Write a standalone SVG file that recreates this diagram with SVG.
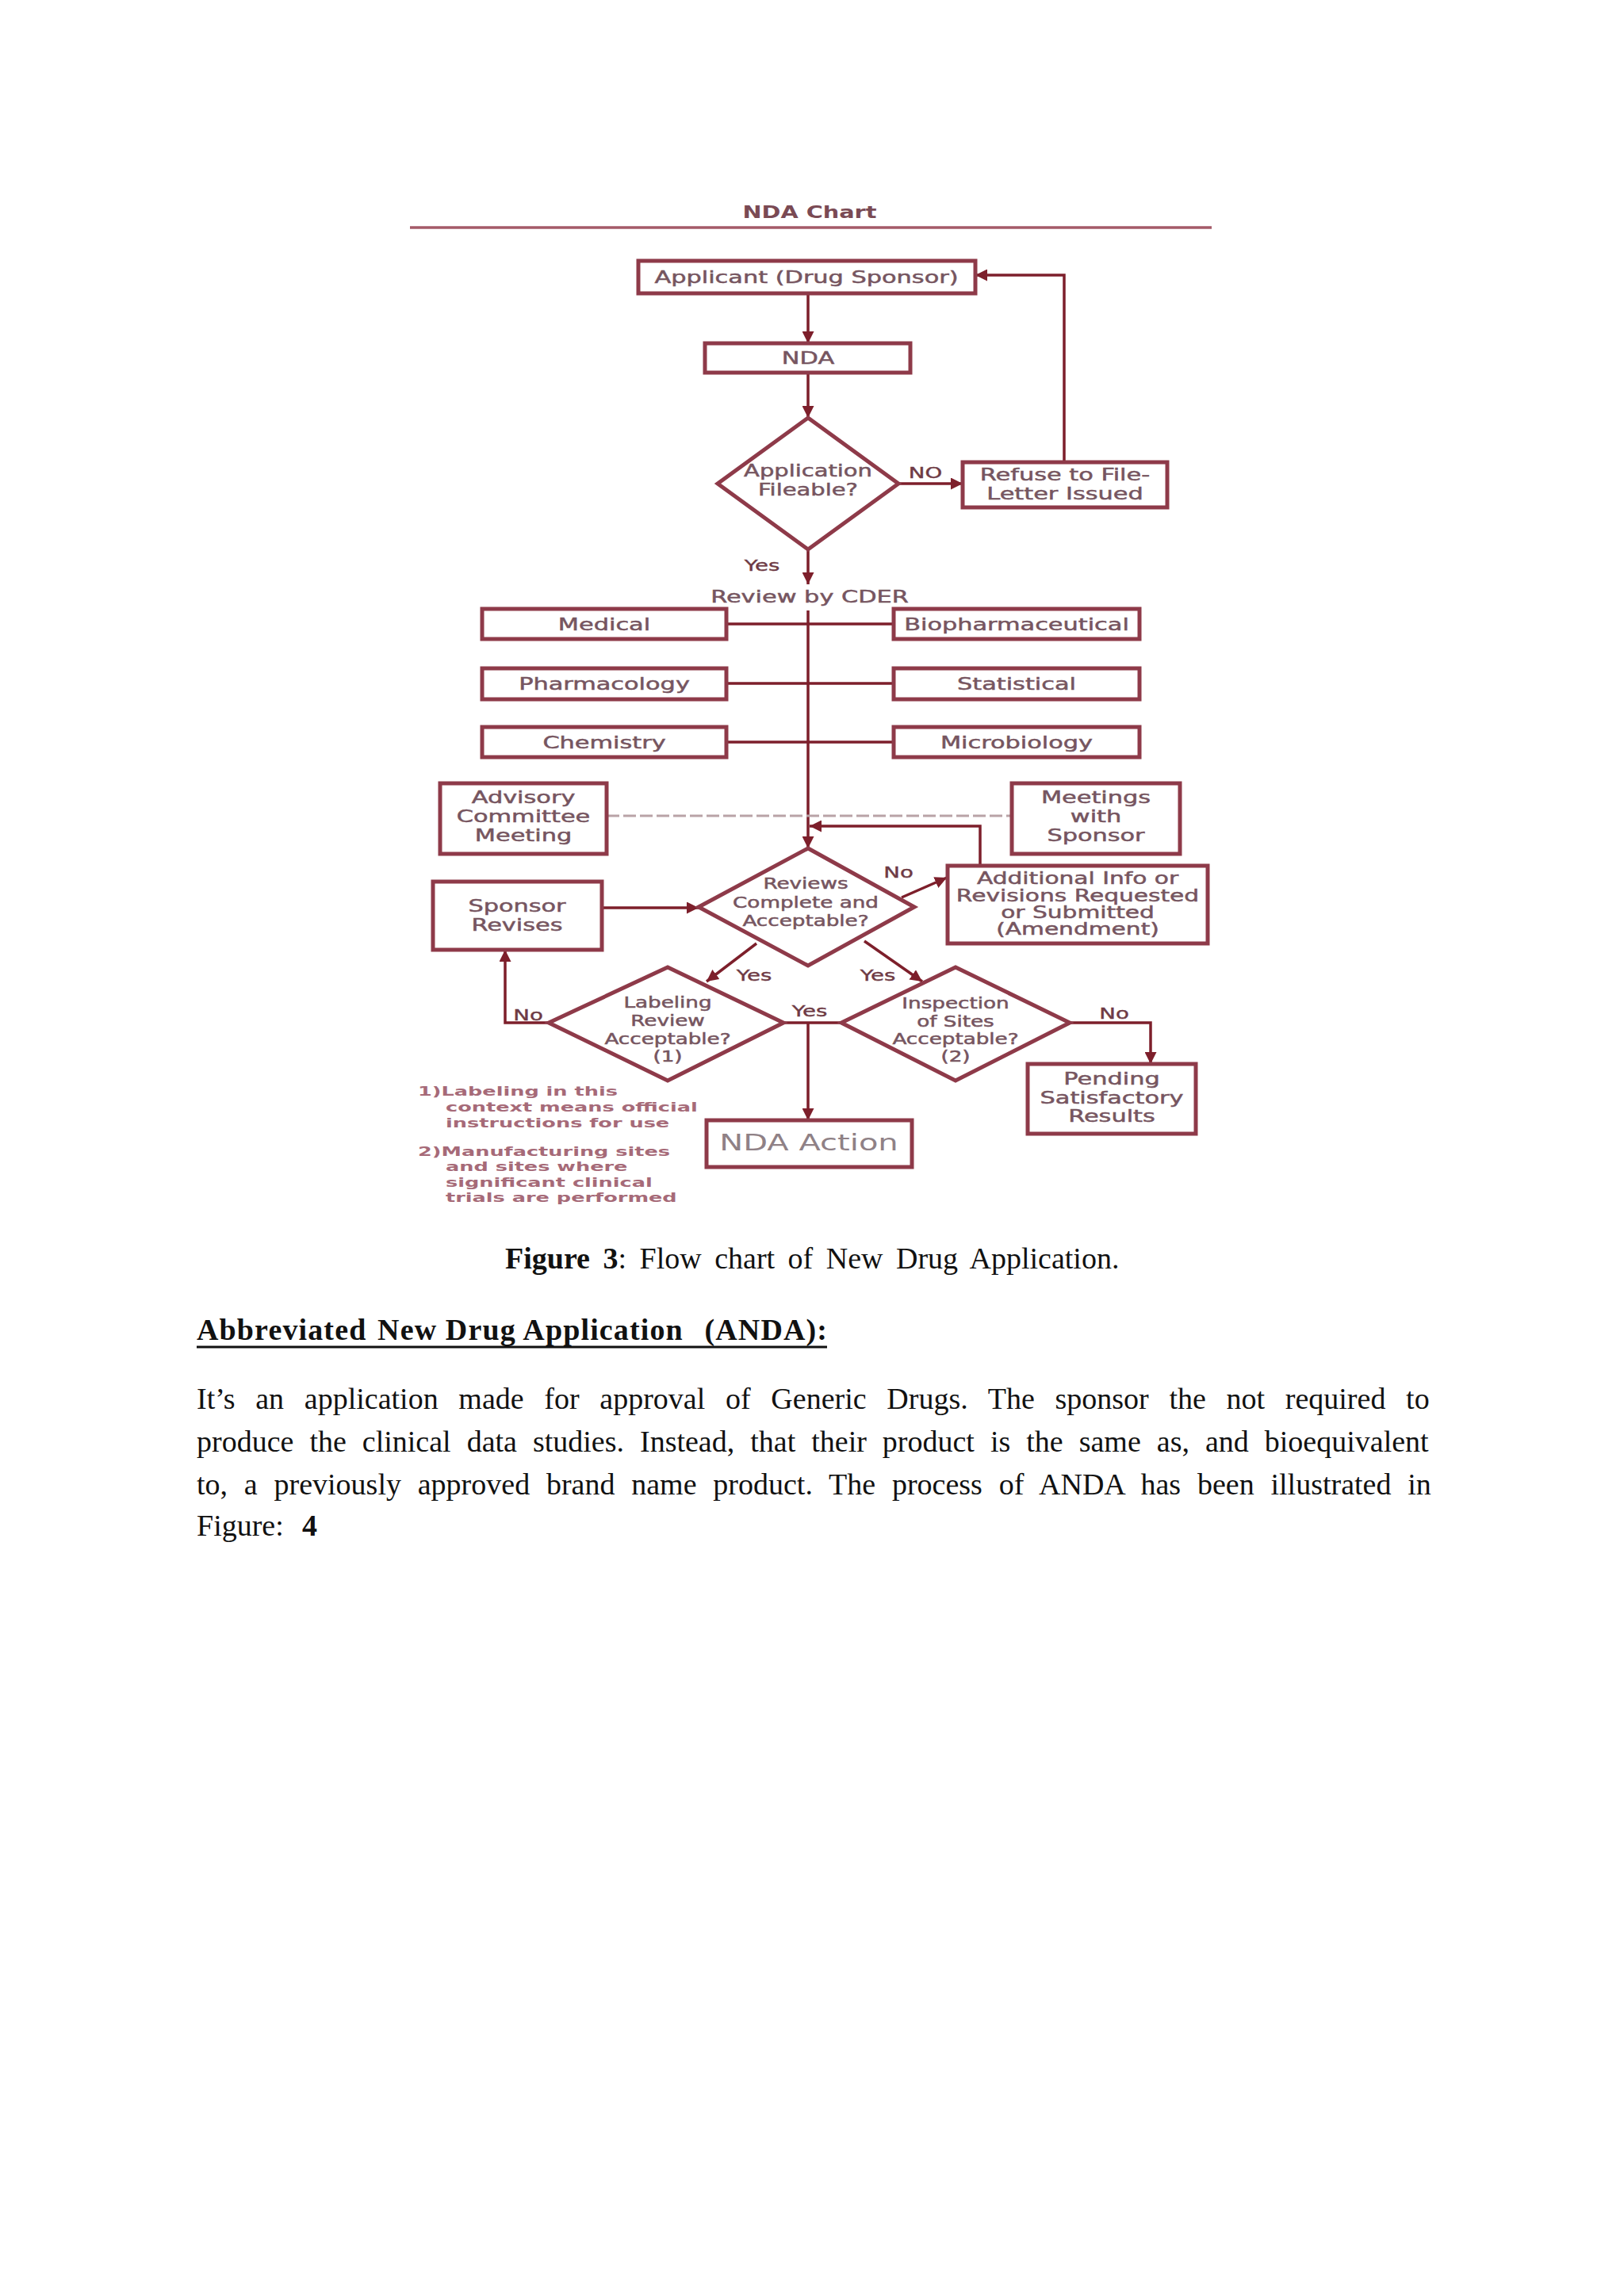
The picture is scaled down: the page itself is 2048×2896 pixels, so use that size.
<svg xmlns="http://www.w3.org/2000/svg" width="2048" height="2896" viewBox="0 0 2048 2896">
<style>
.bx{fill:#fff;stroke:#8e3a49;stroke-width:5}
.ln{fill:none;stroke:#7d1f2b;stroke-width:3.5}
.dash{fill:none;stroke:#b9a3a7;stroke-width:3;stroke-dasharray:16 5}
.t{font-family:"DejaVu Sans",Verdana,sans-serif;fill:#765560;stroke:#765560;stroke-width:0.5;font-size:22px;text-anchor:middle}
.d{font-size:19px}
.lb{font-family:"DejaVu Sans",Verdana,sans-serif;fill:#6e3a44;stroke:#6e3a44;stroke-width:0.4;font-size:20px;text-anchor:middle}
.fn{font-family:"DejaVu Sans",Verdana,sans-serif;fill:#a66a78;font-size:16.5px;font-weight:bold}
.body{font-family:"Liberation Serif","Times New Roman",serif;font-size:38px;fill:#111}
</style>
<defs>
<marker id="ah" viewBox="0 0 10 10" refX="10" refY="5" markerWidth="15" markerHeight="15" markerUnits="userSpaceOnUse" orient="auto"><path d="M0,0 L10,5 L0,10 z" fill="#7d1f2b"/></marker>
</defs>
<rect width="2048" height="2896" fill="#fff"/>

<g id="title">
<text class="t" style="font-weight:bold;fill:#7a4a54;stroke:none;font-size:21px" transform="translate(1021,275) scale(1.37,1)">NDA Chart</text>
<line x1="517" y1="287" x2="1528" y2="287" stroke="#a45a68" stroke-width="3.5"/>
</g>

<g id="connectors">
<line class="ln" x1="1019" y1="370" x2="1019" y2="433" marker-end="url(#ah)"/>
<line class="ln" x1="1019" y1="470" x2="1019" y2="527" marker-end="url(#ah)"/>
<line class="ln" x1="1133" y1="610" x2="1214" y2="610" marker-end="url(#ah)"/>
<polyline class="ln" points="1342,583 1342,347 1230,347" marker-end="url(#ah)"/>
<line class="ln" x1="1019" y1="693" x2="1019" y2="737" marker-end="url(#ah)"/>
<line class="ln" x1="1019" y1="770" x2="1019" y2="1070" marker-end="url(#ah)"/>
<line class="ln" x1="916" y1="787" x2="1127" y2="787"/>
<line class="ln" x1="916" y1="862" x2="1127" y2="862"/>
<line class="ln" x1="916" y1="936" x2="1127" y2="936"/>
<line class="dash" x1="765" y1="1029" x2="1276" y2="1029"/>
<polyline class="ln" points="1236,1092 1236,1042 1021,1042" marker-end="url(#ah)"/>
<line class="ln" x1="759" y1="1145" x2="881" y2="1145" marker-end="url(#ah)"/>
<line class="ln" x1="1137" y1="1132" x2="1194" y2="1107" marker-end="url(#ah)"/>
<line class="ln" x1="954" y1="1190" x2="891" y2="1238" marker-end="url(#ah)"/>
<line class="ln" x1="1090" y1="1187" x2="1163" y2="1238" marker-end="url(#ah)"/>
<line class="ln" x1="988" y1="1290" x2="1061" y2="1290"/>
<line class="ln" x1="1019" y1="1290" x2="1019" y2="1413" marker-end="url(#ah)"/>
<polyline class="ln" points="692,1290 637,1290 637,1198" marker-end="url(#ah)"/>
<polyline class="ln" points="1349,1290 1451,1290 1451,1342" marker-end="url(#ah)"/>
<text class="lb" transform="translate(1167,603) scale(1.38,1)">NO</text>
<text class="lb" transform="translate(961,720) scale(1.38,1)">Yes</text>
<text class="t" transform="translate(1021,760) scale(1.38,1)">Review by CDER</text>
<text class="lb" transform="translate(1133,1107) scale(1.38,1)">No</text>
<text class="lb" transform="translate(951,1237) scale(1.38,1)">Yes</text>
<text class="lb" transform="translate(1107,1237) scale(1.38,1)">Yes</text>
<text class="lb" transform="translate(1021,1282) scale(1.38,1)">Yes</text>
<text class="lb" transform="translate(666,1287) scale(1.38,1)">No</text>
<text class="lb" transform="translate(1405,1285) scale(1.38,1)">No</text>
</g>

<g id="applicant">
<rect class="bx" x="805" y="329" width="425" height="41"/>
<text class="t" transform="translate(1017,357) scale(1.38,1)">Applicant (Drug Sponsor)</text>
</g>
<g id="nda">
<rect class="bx" x="889" y="433" width="259" height="37"/>
<text class="t" transform="translate(1019,459) scale(1.38,1)">NDA</text>
</g>
<g id="fileable">
<polygon class="bx" points="1019,527 1133,610 1019,693 905,610"/>
<text class="t" style="font-size:21px" transform="translate(1019,601) scale(1.38,1)">Application</text>
<text class="t" style="font-size:21px" transform="translate(1019,625) scale(1.38,1)">Fileable?</text>
</g>
<g id="refuse">
<rect class="bx" x="1214" y="583" width="258" height="57"/>
<text class="t" transform="translate(1343,606) scale(1.38,1)">Refuse to File-</text>
<text class="t" transform="translate(1343,630) scale(1.38,1)">Letter Issued</text>
</g>

<g id="medical"><rect class="bx" x="608" y="768" width="308" height="38"/><text class="t" transform="translate(762,795) scale(1.38,1)">Medical</text></g>
<g id="biopharmaceutical"><rect class="bx" x="1127" y="768" width="310" height="38"/><text class="t" transform="translate(1282,795) scale(1.38,1)">Biopharmaceutical</text></g>
<g id="pharmacology"><rect class="bx" x="608" y="843" width="308" height="39"/><text class="t" transform="translate(762,870) scale(1.38,1)">Pharmacology</text></g>
<g id="statistical"><rect class="bx" x="1127" y="843" width="310" height="39"/><text class="t" transform="translate(1282,870) scale(1.38,1)">Statistical</text></g>
<g id="chemistry"><rect class="bx" x="608" y="917" width="308" height="38"/><text class="t" transform="translate(762,944) scale(1.38,1)">Chemistry</text></g>
<g id="microbiology"><rect class="bx" x="1127" y="917" width="310" height="38"/><text class="t" transform="translate(1282,944) scale(1.38,1)">Microbiology</text></g>

<g id="advisory">
<rect class="bx" x="555" y="988" width="210" height="89"/>
<text class="t" transform="translate(660,1013) scale(1.38,1)">Advisory</text>
<text class="t" transform="translate(660,1037) scale(1.38,1)">Committee</text>
<text class="t" transform="translate(660,1061) scale(1.38,1)">Meeting</text>
</g>
<g id="meetings">
<rect class="bx" x="1276" y="988" width="212" height="89"/>
<text class="t" transform="translate(1382,1013) scale(1.38,1)">Meetings</text>
<text class="t" transform="translate(1382,1037) scale(1.38,1)">with</text>
<text class="t" transform="translate(1382,1061) scale(1.38,1)">Sponsor</text>
</g>

<g id="reviews">
<polygon class="bx" points="1019,1070 1153,1144 1019,1218 881,1144"/>
<text class="t d" transform="translate(1016,1121) scale(1.38,1)">Reviews</text>
<text class="t d" transform="translate(1016,1145) scale(1.38,1)">Complete and</text>
<text class="t d" transform="translate(1016,1168) scale(1.38,1)">Acceptable?</text>
</g>
<g id="sponsor-revises">
<rect class="bx" x="546" y="1112" width="213" height="86"/>
<text class="t" transform="translate(652,1150) scale(1.38,1)">Sponsor</text>
<text class="t" transform="translate(652,1174) scale(1.38,1)">Revises</text>
</g>
<g id="additional">
<rect class="bx" x="1195" y="1092" width="328" height="98"/>
<text class="t" style="font-size:21.5px" transform="translate(1359,1115) scale(1.38,1)">Additional Info or</text>
<text class="t" style="font-size:21.5px" transform="translate(1359,1137) scale(1.38,1)">Revisions Requested</text>
<text class="t" style="font-size:21.5px" transform="translate(1359,1158) scale(1.38,1)">or Submitted</text>
<text class="t" style="font-size:21.5px" transform="translate(1359,1179) scale(1.38,1)">(Amendment)</text>
</g>

<g id="labeling">
<polygon class="bx" points="842,1220 988,1290 842,1363 692,1290"/>
<text class="t d" transform="translate(842,1271) scale(1.38,1)">Labeling</text>
<text class="t d" transform="translate(842,1294) scale(1.38,1)">Review</text>
<text class="t d" transform="translate(842,1317) scale(1.38,1)">Acceptable?</text>
<text class="t d" transform="translate(842,1339) scale(1.38,1)">(1)</text>
</g>
<g id="inspection">
<polygon class="bx" points="1205,1220 1349,1290 1205,1363 1061,1290"/>
<text class="t d" transform="translate(1205,1272) scale(1.38,1)">Inspection</text>
<text class="t d" transform="translate(1205,1295) scale(1.38,1)">of Sites</text>
<text class="t d" transform="translate(1205,1317) scale(1.38,1)">Acceptable?</text>
<text class="t d" transform="translate(1205,1339) scale(1.38,1)">(2)</text>
</g>
<g id="nda-action">
<rect class="bx" x="891" y="1413" width="259" height="59"/>
<text class="t" style="font-size:29px;fill:#8f8186;stroke:none" transform="translate(1020,1451) scale(1.38,1)">NDA Action</text>
</g>
<g id="pending">
<rect class="bx" x="1296" y="1342" width="212" height="88"/>
<text class="t" transform="translate(1402,1368) scale(1.38,1)">Pending</text>
<text class="t" transform="translate(1402,1392) scale(1.38,1)">Satisfactory</text>
<text class="t" transform="translate(1402,1415) scale(1.38,1)">Results</text>
</g>

<g id="footnotes">
<text class="fn" transform="translate(527,1382) scale(1.55,1)">1)Labeling in this</text>
<text class="fn" transform="translate(562,1402) scale(1.55,1)">context means official</text>
<text class="fn" transform="translate(562,1422) scale(1.55,1)">instructions for use</text>
<text class="fn" transform="translate(527,1458) scale(1.55,1)">2)Manufacturing sites</text>
<text class="fn" transform="translate(562,1477) scale(1.55,1)">and sites where</text>
<text class="fn" transform="translate(562,1497) scale(1.55,1)">significant clinical</text>
<text class="fn" transform="translate(562,1516) scale(1.55,1)">trials are performed</text>
</g>

<g id="text-body">
<text class="body" x="637" y="1600" style="word-spacing:7px"><tspan font-weight="bold">Figure 3</tspan>: Flow chart of New Drug Application.</text>
<text class="body" x="248" y="1690" font-weight="bold" textLength="795" lengthAdjust="spacing"><tspan>Abbreviated</tspan><tspan dx="3"> New Drug Application</tspan><tspan dx="16"> (ANDA):</tspan></text>
<line x1="248" y1="1699" x2="1043" y2="1699" stroke="#111" stroke-width="3"/>
<text class="body" x="248" y="1777" style="word-spacing:16.2px">It’s an application made for approval of Generic Drugs. The sponsor the not required to</text>
<text class="body" x="248" y="1831" style="word-spacing:10.5px">produce the clinical data studies. Instead, that their product is the same as, and bioequivalent</text>
<text class="body" x="248" y="1885" style="word-spacing:11.3px">to, a previously approved brand name product. The process of ANDA has been illustrated in</text>
<text class="body" x="248" y="1937">Figure: <tspan x="381" font-weight="bold">4</tspan></text>
</g>
</svg>
